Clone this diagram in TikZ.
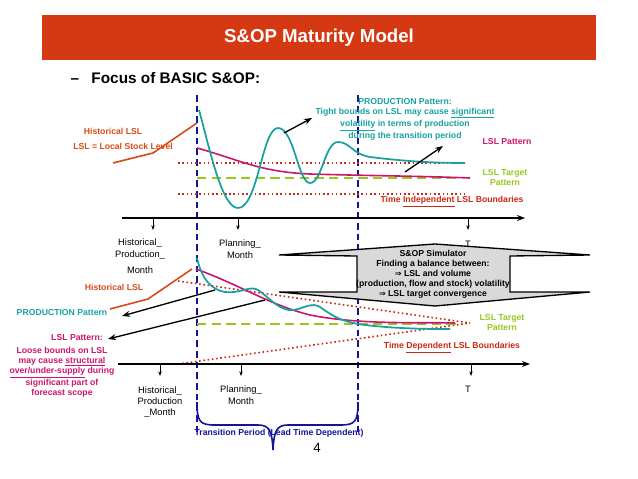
\documentclass[tikz,border=0pt]{standalone}
\usepackage{fontspec}
\setmainfont{Liberation Sans}
\newfontfamily\dejavu{DejaVu Sans}
\usetikzlibrary{arrows.meta}
\definecolor{titlered}{RGB}{212,57,20}
\definecolor{histor}{RGB}{214,74,28}
\definecolor{teal1}{RGB}{24,160,160}
\definecolor{mag}{RGB}{204,20,110}
\definecolor{lgreen}{RGB}{150,200,30}
\definecolor{bred}{RGB}{200,40,20}
\definecolor{navy}{RGB}{20,20,150}
\tikzset{
 lbl/.style={font=\fontsize{6.5}{7.5}\selectfont\bfseries,align=center,inner sep=0pt},
 plain/.style={font=\fontsize{7}{8.5}\selectfont,align=center,inner sep=0pt},
 vdash/.style={navy,line width=1pt,dash pattern=on 5pt off 3pt},
 bound/.style={bred,dotted,line width=1.2pt},
 target/.style={lgreen,line width=1.2pt,dash pattern=on 7pt off 4pt},
 axis/.style={line width=1pt,-{Stealth[length=6pt]}},
 tick/.style={line width=0.6pt,-{Stealth[length=3.5pt]}},
 pointer/.style={line width=1pt,-{Stealth[length=6pt]}},
}
\begin{document}
\begin{tikzpicture}[x=0.75pt,y=-0.75pt]
\useasboundingbox (0,0) rectangle (638,478);
\fill[titlered] (42,15) rectangle (596,60);
\node[text=white,font=\fontsize{14}{16}\selectfont\bfseries] (title) at (319,38) {S\&OP Maturity Model};
\node[anchor=west,font=\fontsize{11.5}{13}\selectfont\bfseries] (focus) at (66,78) {–\hspace{6pt} Focus of BASIC S\&OP:};

% dashed verticals
\draw[vdash] (197,95) -- (197,432);
\draw[vdash] (358,95) -- (358,432);

% ===== top chart =====
\draw[bound] (178,163) -- (468,163);
\draw[bound] (178,194) -- (468,194);
\draw[target] (197,178) -- (460,178);
\draw[histor,line width=1.2pt] (113,163) -- (153,153) -- (197,123);
\draw[mag,line width=1.2pt] (197,148) .. controls (240,160) and (260,172) .. (310,174) .. controls (380,176) and (420,176) .. (470,178);
\draw[teal1,line width=1.3pt] (199,110) .. controls (210,150) and (222,208) .. (238,208)
  .. controls (258,208) and (262,128) .. (278,128)
  .. controls (294,128) and (298,183) .. (310,183)
  .. controls (322,183) and (325,142) .. (338,142)
  .. controls (350,142) and (352,154) .. (370,157)
  .. controls (410,162) and (440,163) .. (465,163);
\draw[axis] (122,218) -- (525,218);
\coordinate (ta1) at (153,218); \coordinate (tb1) at (238,218); \coordinate (tc1) at (468,218);
\draw[tick] (ta1) -- ++(0,12); \draw[tick] (tb1) -- ++(0,12); \draw[tick] (tc1) -- ++(0,12);
\coordinate (p1s) at (284,133); \coordinate (p1e) at (312,118);
\draw[pointer] (p1s) -- (p1e);
\coordinate (p2s) at (405,172); \coordinate (p2e) at (443,146);
\draw[pointer] (p2s) -- (p2e);

\node[lbl,text=teal1] (prodtxt) at (405,119) {PRODUCTION Pattern:\\Tight bounds on LSL may cause \underline{significant}\\\underline{volatility} in terms of production\\during the transition period};
\node[lbl,text=histor] (hl1) at (113,131) {Historical LSL};
\node[lbl,text=histor] (lsldef) at (123,146) {LSL = Local Stock Level};
\node[lbl,text=mag] (lslp1) at (507,142) {LSL Pattern};
\node[lbl,text=lgreen] (tgt1) at (505,178) {LSL Target\\Pattern};
\node[lbl,text=bred] (bnd1) at (452,202) {Time \underline{Independent} LSL Boundaries};
\node[plain] (hpm1) at (140,249) {Historical\_\\Production\_};
\node[plain] (mon1) at (140,270) {Month};
\node[plain] (pm1) at (240,249) {Planning\_\\Month};
\node[plain] (t1) at (468,244) {T};

% simulator shape
\draw[fill=black!15,line width=1pt] (279,255) -- (435,244) -- (590,255) -- (510,256) -- (510,292) -- (590,292) -- (435,306) -- (279,292) -- (357,292) -- (357,256) -- cycle;
\node[lbl] (sim) at (433,274) {S\&OP Simulator\\Finding a balance between:\\{\dejavu\fontsize{6}{7}\selectfont ⇒} LSL and volume\\(production, flow and stock) volatility\\{\dejavu\fontsize{6}{7}\selectfont ⇒} LSL target convergence};

% ===== bottom chart =====
\draw[bound] (178,281) -- (470,323);
\draw[bound] (178,364) -- (470,323);
\draw[target] (197,324) -- (460,324);
\draw[histor,line width=1.2pt] (110,309) -- (148,299) -- (192,269);
\draw[mag,line width=1.2pt] (196,269) .. controls (240,285) and (270,305) .. (310,315) .. controls (360,325) and (420,322) .. (455,323);
\draw[teal1,line width=1.3pt] (197,258) .. controls (202,280) and (212,290) .. (225,292)
  .. controls (240,294) and (250,285) .. (258,290)
  .. controls (270,298) and (280,312) .. (294,310)
  .. controls (304,308) and (312,302) .. (320,307)
  .. controls (330,314) and (340,322) .. (365,325)
  .. controls (400,329) and (430,329) .. (450,329);
\draw[axis] (118,364) -- (530,364);
\coordinate (ta2) at (160,364); \coordinate (tb2) at (241,364); \coordinate (tc2) at (471,364);
\draw[tick] (ta2) -- ++(0,12); \draw[tick] (tb2) -- ++(0,12); \draw[tick] (tc2) -- ++(0,12);
\coordinate (p3s) at (215,290); \coordinate (p3e) at (122,316);
\draw[pointer] (p3s) -- (p3e);
\coordinate (p4s) at (265,300); \coordinate (p4e) at (108,339);
\draw[pointer] (p4s) -- (p4e);

\node[lbl,text=histor] (hl2) at (114,287) {Historical LSL};
\node[lbl,text=teal1] (prod2) at (62,313) {PRODUCTION Pattern};
\node[lbl,text=mag] (lslp2) at (77,338) {LSL Pattern:};
\node[lbl,text=mag] (loose) at (62,372) {Loose bounds on LSL\\may cause \underline{structural}\\\underline{over/under-supply} during\\significant part of\\forecast scope};
\node[lbl,text=lgreen] (tgt2) at (502,323) {LSL Target\\Pattern};
\node[lbl,text=bred] (bnd2) at (452,348) {Time \underline{Dependent} LSL Boundaries};
\node[plain] (hpm2) at (160,402) {Historical\_\\Production\\\_Month};
\node[plain] (pm2) at (241,395) {Planning\_\\Month};
\node[plain] (t2) at (468,389) {T};

% brace
\draw[navy,line width=1.2pt] (197,402) .. controls (197,422) and (200,425) .. (215,425) -- (258,425) .. controls (270,425) and (272,432) .. (273,450);
\draw[navy,line width=1.2pt] (358,402) .. controls (358,422) and (355,425) .. (340,425) -- (288,425) .. controls (276,425) and (274,432) .. (273,450);
\node[lbl,text=navy] (trans) at (279,433) {Transition Period (Lead Time Dependent)};
\node[font=\fontsize{10}{12}\selectfont] (pg) at (317,448) {4};
\end{tikzpicture}
\end{document}
